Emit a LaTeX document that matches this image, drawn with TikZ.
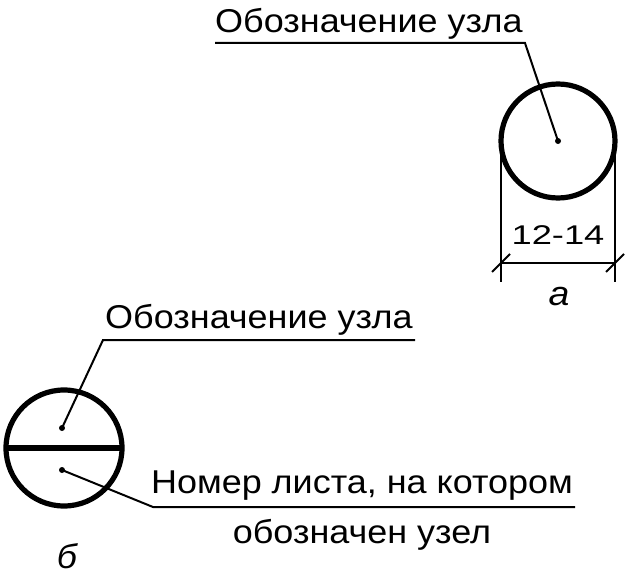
\documentclass[tikz,border=0pt]{standalone}
\usepackage{fontspec}
\setmainfont{Liberation Sans}
\begin{document}
\begin{tikzpicture}[x=1pt,y=-1pt,
		knot/.style={line width=5.2pt},
		thin line/.style={line width=2pt},
		lbl/.style={inner sep=0pt,font=\fontsize{33}{38}\selectfont},
		letter/.style={inner sep=0pt,font=\fontsize{34}{38}\selectfont\itshape}]
		\useasboundingbox (0,0) rectangle (626,578);
		
		% Node mark a
		\coordinate (Ca) at (558,141);
		\coordinate (Ta) at (525,43);
		\coordinate (Sa) at (215,43);
		\draw[thin line] (Ca) ++(-57,0) -- ++(0,141);
		\draw[thin line] (Ca) ++(57,0) -- ++(0,141);
		\draw[knot] (Ca) circle (57);
		\fill (Ca) circle (3);
		\node[lbl,anchor=base] (name a) at (369,33) {\scalebox{1.09}[1]{Обозначение узла}};
		\draw[thin line] (Ca) -- (Ta) -- (Sa);
		
		% Dimension 12-14
		\coordinate (Da) at (501,263);
		\coordinate (Db) at (615,263);
		\draw[thin line] (Da) -- (Db);
		\draw[thin line] (Da) ++(-9,9) -- ++(18,-18);
		\draw[thin line] (Db) ++(-9,9) -- ++(18,-18);
		\node[lbl,anchor=base] (size) at (558,244) {\scalebox{1.1}[0.82]{12-14}};
		\node[letter,anchor=base] (mark a) at (559,305) {\scalebox{1.1}[1]{а}};
		
		% Node mark b
		\coordinate (Cb) at (64,448);
		\coordinate (Pu) at (62,428);
		\coordinate (Pl) at (62,470);
		\coordinate (Tu) at (103,340);
		\coordinate (Su) at (415,340);
		\coordinate (Tl) at (153,507);
		\coordinate (Sl) at (575,507);
		\draw[knot] (Cb) circle (58);
		\draw[knot] (Cb) ++(-58,0) -- ++(116,0);
		\fill (Pu) circle (3);
		\fill (Pl) circle (3);
		\draw[thin line] (Pu) -- (Tu) -- (Su);
		\draw[thin line] (Pl) -- (Tl) -- (Sl);
		\node[lbl,anchor=base] (name b) at (259,328) {\scalebox{1.09}[1]{Обозначение узла}};
		\node[lbl,anchor=base] (sheet) at (362,493) {\scalebox{1.09}[1]{Номер листа, на котором}};
		\node[lbl,anchor=base] (sheet2) at (362,543) {\scalebox{1.09}[1]{обозначен узел}};
		\node[letter,anchor=base] (mark b) at (67,568) {\scalebox{1.05}[1]{б}};
	\end{tikzpicture}
\end{document}
